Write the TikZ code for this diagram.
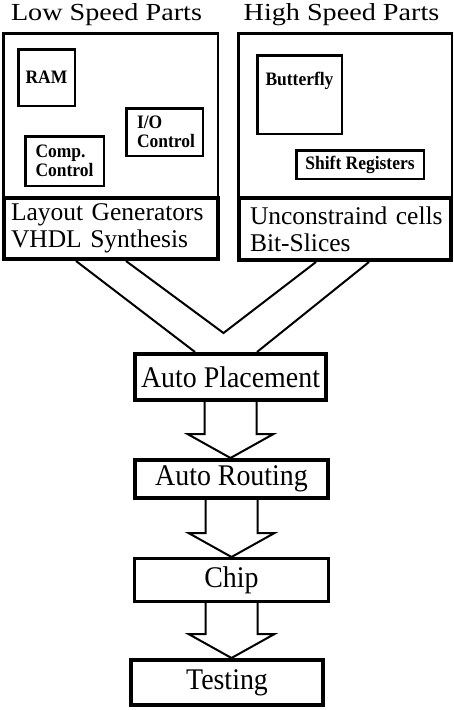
\documentclass[tikz,border=0pt]{standalone}
\usepackage{fontspec}
\setmainfont{Liberation Serif}
\newfontfamily\titlefont[FakeStretch=1.15]{Liberation Serif}
\newfontfamily\flowfont[FakeStretch=0.93]{Liberation Serif}
\newfontfamily\partfont[FakeStretch=0.92]{Liberation Serif}
\usetikzlibrary{calc}
\tikzset{
  titletext/.style={font=\titlefont\fontsize{24.5}{26}\selectfont, inner sep=0pt},
  partbox/.style={draw, line width=2.5pt, inner sep=0pt},
  lowbox/.style={draw, line width=4pt, inner ysep=0pt, align=left, font=\fontsize{25.5}{27}\selectfont},
  smallbox/.style={draw, line width=2.5pt, inner sep=0pt, align=left, font=\partfont\fontsize{19}{19}\selectfont\bfseries},
  flowbox/.style={draw, line width=4pt, inner sep=0pt, font=\flowfont\fontsize{30}{32}\selectfont},
  funnel/.style={line width=2pt, line join=miter},
  arrowline/.style={line width=2pt, line join=miter},
}
\newcommand\flowarrow[2]{%
  \draw[arrowline] ($(#1.south)+(-26,0)$) -- ($(#1.south |- #2.north)+(-26,-24)$)
    -- ($(#1.south |- #2.north)+(-43,-24)$) -- (#1.south |- #2.north)
    -- ($(#1.south |- #2.north)+(43,-24)$) -- ($(#1.south |- #2.north)+(26,-24)$)
    -- ($(#1.south)+(26,0)$);}
\begin{document}
\begin{tikzpicture}[x=1pt,y=-1pt]
\useasboundingbox (0,0) rectangle (454,710);
% titles
\node[titletext, anchor=base] (tlow) at (106.5,20) {Low Speed Parts};
\node[titletext, anchor=base] (thigh) at (341.5,20) {High Speed Parts};
% upper boxes
\node[partbox, minimum width=214.5pt, minimum height=164.5pt] (lup) at (110.5,115.5) {};
\node[partbox, minimum width=213.5pt, minimum height=163.5pt] (rup) at (345,115) {};
% small boxes left
\node[smallbox, align=center, minimum width=56.5pt, minimum height=56.5pt] (ram) at (46.5,77.5) {RAM};
\node[smallbox, minimum width=76.5pt, minimum height=47.5pt] (io) at (164.5,132) {\hspace*{3pt}I/O\\\hspace*{3pt}Control};
\node[smallbox, minimum width=78.5pt, minimum height=49.5pt] (comp) at (64.5,161) {Comp.\\Control};
% small boxes right
\node[smallbox, minimum width=84.5pt, minimum height=78.5pt,
  label={[anchor=north, inner sep=0pt, yshift=-18pt, font=\partfont\fontsize{19}{19}\selectfont\bfseries]north:Butterfly}] (bfly) at (299.5,94.5) {};
\node[smallbox, align=center, minimum width=127.5pt, minimum height=28.5pt] (shift) at (360,164.5) {Shift Registers};
% lower boxes
\node[lowbox, inner xsep=7pt, text width=200pt, minimum height=61pt] (llow) at (111,228.5) {Layout Generators\\VHDL Synthesis};
\node[lowbox, inner xsep=11pt, text width=190pt, minimum height=62pt] (rlow) at (345,229) {\makebox[0pt][l]{Unconstraind cells}\\Bit-Slices};
% flow boxes
\node[flowbox, minimum width=191pt, minimum height=46pt] (place) at (230.5,377) {Auto Placement};
\node[flowbox, minimum width=193pt, minimum height=38pt] (route) at (231.5,479) {Auto Routing};
\node[flowbox, line width=3pt, minimum width=194pt, minimum height=43pt] (chip) at (231.5,580) {Chip};
\node[flowbox, minimum width=192pt, minimum height=45pt] (test) at (227,682.5) {Testing};
% funnel
\coordinate (apex) at ($(place.north)+(-7,-19)$);
\draw[funnel] ($(llow.south west)+(74,0)$) -- ($(place.north west)+(62,0)$);
\draw[funnel] ($(llow.south west)+(124,0)$) -- (apex) -- ($(rlow.south west)+(79,0)$);
\draw[funnel] ($(rlow.south west)+(132,0)$) -- ($(place.north east)+(-71,0)$);
% arrows
\flowarrow{place}{route}
\flowarrow{route}{chip}
\flowarrow{chip}{test}
\end{tikzpicture}
\end{document}
